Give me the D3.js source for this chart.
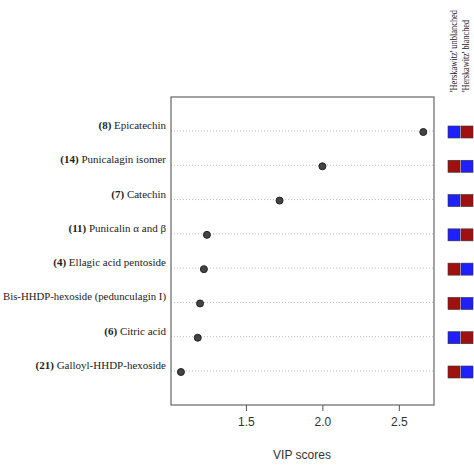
<!DOCTYPE html>
<html><head><meta charset="utf-8">
<script src="https://cdn.jsdelivr.net/npm/d3@7"></script>
<style>body{margin:0;background:#fff}</style>
</head><body>
<svg width="474" height="474"></svg>
<script>
// Data
let nums = ["(8)", "(14)", "(7)", "(11)", "(4)", "", "(6)", "(21)"];
let names = ["Epicatechin", "Punicalagin isomer", "Catechin", "Punicalin \u03b1 and \u03b2",
             "Ellagic  acid pentoside", "Bis-HHDP-hexoside (pedunculagin I)", "Citric acid", "Galloyl-HHDP-hexoside"];
let vip = [2.66, 2.0, 1.72, 1.245, 1.225, 1.2, 1.185, 1.075];
// which sample is higher: first square colour ("B" blue / "R" red)
let first = ["B", "R", "B", "B", "R", "R", "B", "R"];
let ticks = [1.5, 2.0, 2.5];
let headers = ["'Herskawitz'  unblanched", "'Herskawitz'  blanched"];

let svg = d3.select("svg");
let x = d3.scaleLinear().domain([1.01, 2.73]).range([171, 434]);
let y = d3.scalePoint().domain(d3.range(names.length)).range([131, 371]);

// gridlines
svg.selectAll(".grid").data(vip).enter().append("line")
    .attr("x1", 171).attr("x2", 434)
    .attr("y1", (d, i) => y(i)).attr("y2", (d, i) => y(i))
    .attr("stroke", "#bbb").attr("stroke-dasharray", "1,2");

// box
svg.append("rect").attr("x", 171).attr("y", 97).attr("width", 263).attr("height", 308)
    .attr("fill", "none").attr("stroke", "#666").attr("stroke-width", 1.2);

// dots
svg.selectAll(".dot").data(vip).enter().append("circle")
    .attr("cx", d => x(d)).attr("cy", (d, i) => y(i) + 1).attr("r", 3.5)
    .attr("fill", "#444").attr("stroke", "#222");

// labels
let lab = svg.selectAll(".lab").data(names).enter().append("text")
    .attr("x", 166).attr("y", (d, i) => y(i) - 2)
    .attr("text-anchor", "end")
    .attr("font-family", "Liberation Serif").attr("font-size", 11).attr("fill", "#222");
lab.append("tspan").attr("font-weight", "bold").text((d, i) => nums[i] ? nums[i] + " " : "");
lab.append("tspan").text(d => d);
lab.filter((d, i) => i == 5).attr("textLength", 163).attr("lengthAdjust", "spacingAndGlyphs");

// x axis
let ax = svg.append("g").attr("transform", "translate(0,405)")
    .call(d3.axisBottom(x).tickValues(ticks).tickFormat(d3.format(".1f")).tickSize(6).tickPadding(6));
ax.select(".domain").remove();
ax.selectAll("line").attr("stroke", "#555");
ax.selectAll("text").attr("font-family", "Liberation Sans").attr("font-size", 12).attr("fill", "#333");

svg.append("text").attr("x", 302).attr("y", 459).attr("text-anchor", "middle")
    .attr("font-family", "Liberation Sans").attr("font-size", 12).attr("fill", "#333").text("VIP scores");

// colour squares
let blue = "#1f1fff", red = "#a01010";
first.forEach((f, i) => {
    let cols = f == "B" ? [blue, red] : [red, blue];
    cols.forEach((c, j) => {
        svg.append("rect").attr("x", 448 + j * 13).attr("y", y(i) - 5).attr("width", 12).attr("height", 12)
            .attr("fill", c).attr("stroke", "#333").attr("stroke-width", 0.6);
    });
});

// rotated headers
headers.forEach((h, j) => {
    svg.append("text").attr("transform", `translate(${457 + j * 12},92) rotate(-90)`)
        .attr("font-family", "Liberation Serif").attr("font-size", 10).attr("fill", "#222")
        .attr("textLength", j == 0 ? 82 : 72).attr("lengthAdjust", "spacingAndGlyphs").text(h);
});
</script>
</body></html>
